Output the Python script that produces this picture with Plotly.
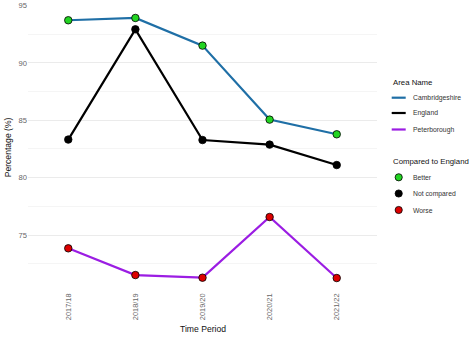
import plotly.graph_objects as go

periods = ["2017/18", "2018/19", "2019/20", "2020/21", "2021/22"]
areas = ["Cambridgeshire", "England", "Peterborough"]
cambs_values = [93.72, 93.92, 91.51, 85.06, 83.78]
england_values = [83.32, 92.93, 83.28, 82.88, 81.10]
peterb_values = [73.84, 71.51, 71.28, 76.57, 71.25]
cambs_compare = ["Better", "Better", "Better", "Better", "Better"]
england_compare = ["Not compared"] * 5
peterb_compare = ["Worse", "Worse", "Worse", "Worse", "Worse"]
compare_levels = ["Better", "Not compared", "Worse"]
y_ticks = [75, 80, 85, 90, 95]
y_minor = [72.5, 77.5, 82.5, 87.5, 92.5]

line_colors = {"Cambridgeshire": "#1f6fa6", "England": "#000000", "Peterborough": "#9b1de3"}
point_colors = {"Better": "#22d422", "Not compared": "#000000", "Worse": "#dd0000"}

series = {
    "Cambridgeshire": (cambs_values, cambs_compare),
    "England": (england_values, england_compare),
    "Peterborough": (peterb_values, peterb_compare),
}

# plot area in pixels
W, H = 474, 338
L, R, T, B = 28, 377, 5, 291


def px(xp):
    return (xp - L) / (R - L)


def py(yp):
    return (B - yp) / (B - T)


fig = go.Figure()
for a in areas:
    vals, _ = series[a]
    fig.add_trace(go.Scatter(
        x=periods, y=vals, mode="lines", name=a,
        line=dict(color=line_colors[a], width=2.2), showlegend=False,
    ))
for c in compare_levels:
    xs, ys = [], []
    for a in areas:
        vals, comp = series[a]
        for p, v, k in zip(periods, vals, comp):
            if k == c:
                xs.append(p)
                ys.append(v)
    fig.add_trace(go.Scatter(
        x=xs, y=ys, mode="markers", name=c, showlegend=False,
        marker=dict(color=point_colors[c], size=7.5, line=dict(color="#000", width=0.8)),
    ))

shapes, annots = [], []
title_font = dict(size=7.8, color="#111")
item_font = dict(size=6.8, color="#333")
# legend: Area Name
annots.append(dict(x=px(390.5), y=py(82.7), xref="paper", yref="paper", text="Area Name",
                   showarrow=False, xanchor="left", yanchor="middle", font=title_font))
for a, yy in zip(areas, [97.7, 113, 129.5]):
    shapes.append(dict(type="line", xref="paper", yref="paper", x0=px(391.7), x1=px(405.7),
                       y0=py(yy), y1=py(yy), line=dict(color=line_colors[a], width=2.2)))
    annots.append(dict(x=px(410.5), y=py(yy), xref="paper", yref="paper", text=a,
                       showarrow=False, xanchor="left", yanchor="middle", font=item_font))
annots.append(dict(x=px(390.5), y=py(161.7), xref="paper", yref="paper", text="Compared to England",
                   showarrow=False, xanchor="left", yanchor="middle", font=title_font))
for c, yy in zip(compare_levels, [177.3, 193.5, 210]):
    r = 3.6
    shapes.append(dict(type="circle", xref="paper", yref="paper",
                       x0=px(398.7 - r), x1=px(398.7 + r), y0=py(yy + r), y1=py(yy - r),
                       fillcolor=point_colors[c], line=dict(color="#000", width=0.8)))
    annots.append(dict(x=px(410.5), y=py(yy), xref="paper", yref="paper", text=c,
                       showarrow=False, xanchor="left", yanchor="middle", font=item_font))
# axis titles
annots.append(dict(x=px((L + R) / 2), y=py(328.5), xref="paper", yref="paper", text="Time Period",
                   showarrow=False, xanchor="center", yanchor="middle", font=dict(size=8.6, color="#111")))
annots.append(dict(x=px(8.3), y=py(147), xref="paper", yref="paper", text="Percentage (%)",
                   showarrow=False, xanchor="center", yanchor="middle", textangle=-90,
                   font=dict(size=8.6, color="#111")))

fig.update_layout(
    width=W, height=H,
    margin=dict(l=L, r=W - R, t=T, b=H - B, autoexpand=False),
    plot_bgcolor="white", paper_bgcolor="white",
    font=dict(family="Liberation Sans, Arial, sans-serif", size=8, color="#4d4d4d"),
    showlegend=False,
    shapes=shapes, annotations=annots,
    xaxis=dict(
        type="category", range=[-0.6, 4.6], tickangle=-90, automargin=False,
        showgrid=False, zeroline=False, showline=False, ticks="",
        tickfont=dict(size=7.4, color="#666"),
    ),
    yaxis=dict(
        range=[70.12, 95.05], tickvals=y_ticks, automargin=False,
        showgrid=True, gridcolor="#ebebeb", gridwidth=1, zeroline=False, showline=False, ticks="",
        tickfont=dict(size=7.6, color="#666"),
        minor=dict(tickvals=y_minor, showgrid=True, gridcolor="#f5f5f5", gridwidth=0.6),
    ),
)
fig.write_html("out.html")
